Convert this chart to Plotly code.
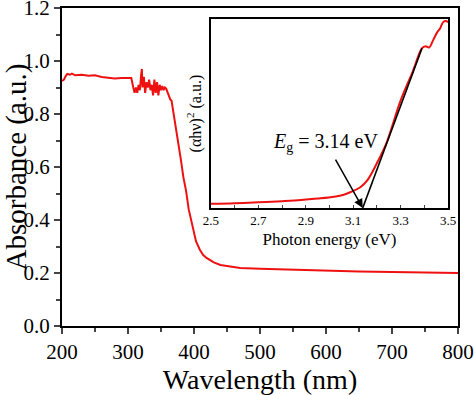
import plotly.graph_objects as go

# Main spectrum: wavelength (nm) vs absorbance (a.u.)
wavelength = [200, 203, 206, 208, 212, 215, 220, 230, 240, 250, 260, 270, 280, 290, 300, 305,
              308, 310, 312, 314, 316, 318, 320, 321, 322, 324, 326, 328, 330, 332, 334, 336,
              338, 340, 342, 344, 346, 348, 350, 352, 354, 356, 358, 360, 362, 364, 366, 368,
              372, 376, 380, 384, 388, 392, 397, 403, 409, 414, 419, 430, 440, 455, 470, 500,
              550, 600, 650, 700, 750, 800]
absorbance = [0.925, 0.93, 0.945, 0.951, 0.948, 0.952, 0.946, 0.948, 0.944, 0.946, 0.94, 0.938,
              0.934, 0.936, 0.937, 0.936,
              0.90, 0.88, 0.90, 0.88, 0.91, 0.89, 0.95, 0.97, 0.90, 0.94, 0.88, 0.92, 0.90, 0.93,
              0.89, 0.91, 0.87, 0.93, 0.88, 0.92, 0.87, 0.91, 0.89, 0.905, 0.89, 0.90, 0.895,
              0.88, 0.865, 0.855, 0.85, 0.82,
              0.76, 0.70, 0.63, 0.56, 0.51, 0.44, 0.38, 0.32, 0.287, 0.268, 0.257, 0.24, 0.23,
              0.225, 0.219, 0.216, 0.212, 0.208, 0.206, 0.204, 0.201, 0.200]

# Inset: Tauc plot
photon_energy = [2.50, 2.60, 2.70, 2.80, 2.88, 2.95, 3.02, 3.06, 3.09, 3.13, 3.16, 3.20, 3.24,
                 3.30, 3.35, 3.39, 3.405, 3.42, 3.437, 3.454, 3.466, 3.479, 3.49, 3.50]
tauc = [0.022, 0.025, 0.030, 0.036, 0.042, 0.050, 0.060, 0.070, 0.085, 0.11, 0.148, 0.238, 0.344,
        0.57, 0.72, 0.846, 0.857, 0.85, 0.889, 0.93, 0.95, 0.984, 0.99, 0.984]

# Tangent line (extrapolation to band gap)
tangent_x = [3.14, 3.39]
tangent_y = [0.0, 0.846]

main_ticks = [0, 0.2, 0.4, 0.6, 0.8, 1.0, 1.2]
main_tick_labels = ["0.0", "0.2", "0.4", "0.6", "0.8", "1.0", "1.2"]
inset_ticks = [2.5, 2.7, 2.9, 3.1, 3.3, 3.5]

FONT = "Liberation Serif, Times New Roman, serif"

fig = go.Figure()
fig.add_trace(go.Scatter(x=wavelength, y=absorbance, mode="lines",
                         line=dict(color="#ee1111", width=2), xaxis="x", yaxis="y",
                         showlegend=False))
fig.add_trace(go.Scatter(x=photon_energy, y=tauc, mode="lines", line_shape="spline",
                         line=dict(color="#ee1111", width=2), xaxis="x2", yaxis="y2",
                         showlegend=False))
fig.add_trace(go.Scatter(x=tangent_x, y=tangent_y, mode="lines",
                         line=dict(color="black", width=1.6), xaxis="x2", yaxis="y2",
                         showlegend=False))

fig.update_layout(
    width=474, height=395,
    margin=dict(l=62, r=16, t=8, b=69, autoexpand=False),
    paper_bgcolor="white", plot_bgcolor="white",
    font=dict(family=FONT, color="black"),
    xaxis=dict(domain=[0, 1], range=[200, 800], tickvals=[200, 300, 400, 500, 600, 700, 800],
               automargin=False, ticklabeloverflow="allow",
               ticks="outside", ticklen=6, tickwidth=1.5, showline=True, linewidth=2,
               linecolor="black", mirror=True, showgrid=False, zeroline=False,
               tickfont=dict(size=21, family=FONT),
               minor=dict(dtick=50, ticks="outside", ticklen=4, tickwidth=1.5),
               title=dict(text="Wavelength (nm)", font=dict(size=28, family=FONT), standoff=4)),
    yaxis=dict(domain=[0, 1], range=[0, 1.2], tickvals=main_ticks, ticktext=main_tick_labels,
               automargin=False, ticklabeloverflow="allow",
               ticks="outside", ticklen=6, tickwidth=1.5, showline=True, linewidth=2,
               linecolor="black", mirror=True, showgrid=False, zeroline=False,
               tickfont=dict(size=21, family=FONT),
               minor=dict(dtick=0.1, ticks="outside", ticklen=4, tickwidth=1.5),
               title=dict(text="Absorbance (a.u.)", font=dict(size=29, family=FONT), standoff=0)),
    xaxis2=dict(domain=[0.376, 0.975], anchor="y2", range=[2.5, 3.5], tickvals=inset_ticks,
                ticktext=["2.5", "2.7", "2.9", "3.1", "3.3", "3.5"], automargin=False,
                ticks="inside", ticklen=3, tickwidth=1, showline=True, linewidth=1.5,
                linecolor="black", mirror=True, showgrid=False, zeroline=False,
                tickfont=dict(size=13, family=FONT),
                minor=dict(dtick=0.1, ticks="inside", ticklen=3, tickwidth=1),
                title=dict(text="Photon energy (eV)", font=dict(size=17, family=FONT), standoff=6)),
    yaxis2=dict(domain=[0.371, 0.965], anchor="x2", range=[0, 1], showticklabels=False,
                automargin=False,
                ticks="", showline=True, linewidth=1.5, linecolor="black", mirror=True,
                showgrid=False, zeroline=False,
                title=dict(text="(αhν)<sup>2</sup> (a.u.)", font=dict(size=16, family=FONT),
                           standoff=4)),
    annotations=[dict(x=3.14, y=0.0, xref="x2", yref="y2", ax=-28, ay=-50,
                      axref="pixel", ayref="pixel", showarrow=True, arrowhead=2,
                      arrowsize=1.2, arrowwidth=1.5, arrowcolor="black", text=""),
                 dict(x=3.14, y=0.0, xref="x2", yref="y2", xshift=-37, yshift=66,
                      showarrow=False,
                      text="<i>E</i><sub>g</sub> = 3.14 eV",
                      font=dict(size=20, family=FONT, color="black"))],
)

fig.write_html("out.html", config={"displayModeBar": False},
               post_script="document.body.style.margin='0';")
